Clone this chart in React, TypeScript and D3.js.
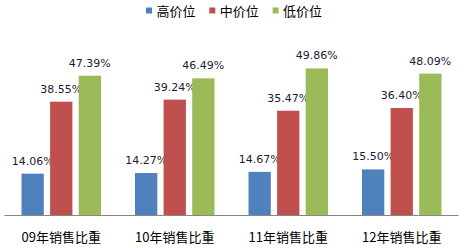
import React from "react";
import * as d3 from "d3";

const categories = ["09年销售比重", "10年销售比重", "11年销售比重", "12年销售比重"];
const seriesNames = ["高价位", "中价位", "低价位"];
const highValues = [14.06, 14.27, 14.67, 15.5];
const midValues = [38.55, 39.24, 35.47, 36.4];
const lowValues = [47.39, 46.49, 49.86, 48.09];
const colors = ["#4F81BD", "#C0504D", "#9BBB59"];

const W = 465;
const H = 248;

export default function App() {
  const series = [highValues, midValues, lowValues];
  const x0 = d3.scaleBand<string>().domain(categories).range([4.5, 458.5]).padding(0);
  const bw0 = x0.bandwidth();
  const x1 = d3
    .scaleBand<string>()
    .domain(seriesNames)
    .range([17, bw0 - 17])
    .paddingInner(0.22)
    .paddingOuter(0);
  const y = d3.scaleLinear().domain([0, 60]).range([215, 38.6]);
  const cjk = "'Microsoft YaHei','Noto Sans CJK SC',sans-serif";
  const num = "'DejaVu Sans',Verdana,sans-serif";

  return (
    <svg
      width={W}
      height={H}
      style={{ position: "absolute", left: 0, top: 0, background: "#fff" }}
    >
      {/* legend */}
      {seriesNames.map((s, i) => {
        const lx = 146 + i * 63.3;
        return (
          <g key={s}>
            <rect x={lx} y={7.5} width={6} height={6} fill={colors[i]} />
            <text x={lx + 10.5} y={15.5} fontSize={13} fontFamily={cjk} fill="#000">
              {s}
            </text>
          </g>
        );
      })}
      {/* bars */}
      {categories.map((c, ci) => (
        <g key={c} transform={`translate(${x0(c)},0)`}>
          {seriesNames.map((s, si) => {
            const v = series[si][ci];
            const bx = x1(s)!;
            return (
              <g key={s}>
                <rect
                  x={bx}
                  y={y(v)}
                  width={x1.bandwidth()}
                  height={y(0) - y(v)}
                  fill={colors[si]}
                />
                <text
                  x={bx + x1.bandwidth() / 2}
                  y={y(v) - 9}
                  textAnchor="middle"
                  fontSize={11}
                  fontFamily={num}
                  fill="#1e1a36"
                >
                  {v.toFixed(2) + "%"}
                </text>
              </g>
            );
          })}
          <text
            x={bw0 / 2}
            y={242}
            textAnchor="middle"
            fontSize={13}
            fontFamily={cjk}
            fill="#000"
          >
            {c}
          </text>
        </g>
      ))}
      {/* axis */}
      <line x1={x0.range()[0]} x2={x0.range()[1]} y1={215.5} y2={215.5} stroke="#868686" strokeWidth={1} />
    </svg>
  );
}
